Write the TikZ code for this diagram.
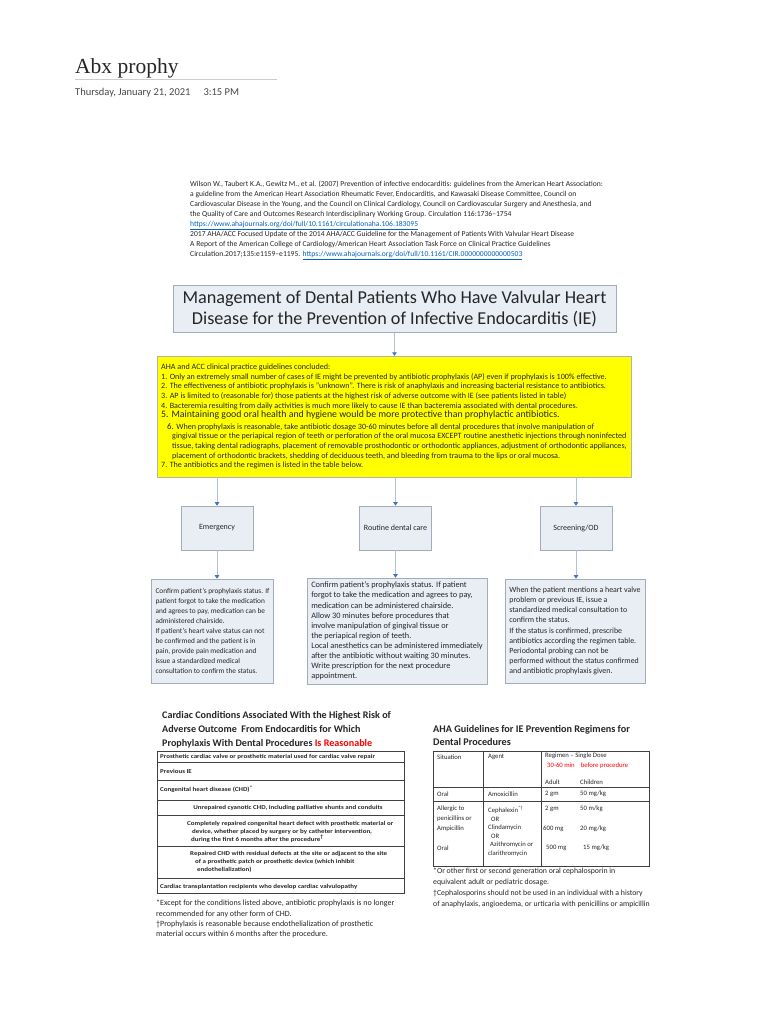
\documentclass[tikz,border=0pt]{standalone}
\usepackage{fontspec}
\setmainfont{Carlito}
\newfontfamily\headfont{Liberation Serif}
\newfontfamily\widefont[FakeStretch=1.16]{Carlito}
\usetikzlibrary{arrows.meta,positioning}
\definecolor{boxfill}{HTML}{E9EDF4}
\definecolor{boxline}{HTML}{A4ACB9}
\definecolor{conn}{HTML}{B4C0D4}
\definecolor{tipc}{HTML}{4472C4}
\definecolor{hilite}{HTML}{FFFF00}
\definecolor{weblink}{HTML}{0563C1}
\definecolor{ink}{HTML}{262626}
\definecolor{rule}{HTML}{404040}
\newcommand{\fsize}[2]{\fontsize{#1}{#2}\selectfont}
\newcommand{\weburl}[1]{\textcolor{weblink}{\underline{#1}}}

\begin{document}
\begin{tikzpicture}[x=1pt,y=-1pt,
  every node/.style={text=ink},
  box/.style={draw=boxline, fill=boxfill, line width=0.6pt},
  stage/.style={box, minimum width=72, minimum height=44, font=\fsize{8}{9}},
  note/.style={box, align=left, font=\fsize{7.3}{10.1}},
  flow/.style={draw=conn, line width=0.7pt, -{Triangle[length=3.5pt,width=4.5pt,color=tipc]}},
  cell/.style={anchor=west, inner sep=0, font=\fsize{6.7}{8}},
  row/.style={anchor=west, inner sep=0, font=\widefont\bfseries\fsize{6}{7.6}},
  grid/.style={draw=rule, line width=0.6pt}]
\useasboundingbox (0,0) rectangle (768,1024);
\fill[white] (0,0) rectangle (768,1024);

\node[anchor=base west, inner sep=0, font=\headfont\fsize{21.5}{24}] (page) at (75,74) {Abx prophy};
\draw[gray!40, line width=0.6pt] (75,79) -- (277,79);
\node[anchor=base west, inner sep=0, font=\fsize{10.5}{12}, text=ink!85] (stamp) at (75,96) {Thursday, January 21, 2021\hspace{13pt}3:15 PM};

\node[anchor=north west, inner sep=0, align=left, font=\fsize{7.6}{10.1}] (refs) at (190,180.5) {Wilson W., Taubert K.A., Gewitz M., et al. (2007) Prevention of infective endocarditis: guidelines from the American Heart Association:\\
a guideline from the American Heart Association Rheumatic Fever, Endocarditis, and Kawasaki Disease Committee, Council on\\
Cardiovascular Disease in the Young, and the Council on Clinical Cardiology, Council on Cardiovascular Surgery and Anesthesia, and\\
the Quality of Care and Outcomes Research Interdisciplinary Working Group. Circulation 116:1736--1754\\
\weburl{https://www.ahajournals.org/doi/full/10.1161/circulationaha.106.183095}\\
2017 AHA/ACC Focused Update of the 2014 AHA/ACC Guideline for the Management of Patients With Valvular Heart Disease\\
A Report of the American College of Cardiology/American Heart Association Task Force on Clinical Practice Guidelines\\
Circulation.2017;135:e1159--e1195. \weburl{https://www.ahajournals.org/doi/full/10.1161/CIR.0000000000000503}};

\node[box, minimum width=443, minimum height=47, align=center, font=\fsize{18.2}{21}] (title) at (394.5,309) {Management of Dental Patients Who Have Valvular Heart\\Disease for the Prevention of Infective Endocarditis (IE)};

\node[draw=gray!60, fill=hilite, minimum width=474, minimum height=121, align=left, font=\fsize{8.1}{9.6}] (guide) at (394,416.5) {AHA and ACC clinical practice guidelines concluded:\\
1. Only an extremely small number of cases of IE might be prevented by antibiotic prophylaxis (AP) even if prophylaxis is 100\% effective.\\
2. The effectiveness of antibiotic prophylaxis is "unknown". There is risk of anaphylaxis and increasing bacterial resistance to antibiotics.\\
3. AP is limited to (reasonable for) those patients at the highest risk of adverse outcome with IE (see patients listed in table)\\
4. Bacteremia resulting from daily activities is much more likely to cause IE than bacteremia associated with dental procedures.\\
{\fsize{9.8}{9.6}5. Maintaining good oral health and hygiene would be more protective than prophylactic antibiotics.}\\[2pt]
\hspace*{6pt}{\fsize{8.8}{9.6}6.} When prophylaxis is reasonable, take antibiotic dosage 30-60 minutes before all dental procedures that involve manipulation of\\
\hspace*{11pt}gingival tissue or the periapical region of teeth or perforation of the oral mucosa EXCEPT routine anesthetic injections through noninfected\\
\hspace*{11pt}tissue, taking dental radiographs, placement of removable prosthodontic or orthodontic appliances, adjustment of orthodontic appliances,\\
\hspace*{11pt}placement of orthodontic brackets, shedding of deciduous teeth, and bleeding from trauma to the lips or oral mucosa.\\
7. The antibiotics and the regimen is listed in the table below.};

\node[stage] (emerg) at (217,528) {Emergency};
\node[stage] (routine) at (395.5,528) {Routine dental care};
\node[stage] (screen) at (576,528) {Screening/OD};

\node[note, minimum width=122, minimum height=104] (emergnote) at (212.5,631) {Confirm patient's prophylaxis status. If\\
patient forgot to take the medication\\
and agrees to pay, medication can be\\
administered chairside.\\
If patient's heart valve status can not\\
be confirmed and the patient is in\\
pain, provide pain medication and\\
issue a standardized medical\\
consultation to confirm the status.};
\node[note, minimum width=180, minimum height=106, font=\fsize{8.3}{10.1}] (routnote) at (397,631) {Confirm patient's prophylaxis status. If patient\\
forgot to take the medication and agrees to pay,\\
medication can be administered chairside.\\
Allow 30 minutes before procedures that\\
involve manipulation of gingival tissue or\\
the periapical region of teeth.\\
Local anesthetics can be administered immediately\\
after the antibiotic without waiting 30 minutes.\\
Write prescription for the next procedure\\
appointment.};
\node[note, minimum width=140, minimum height=104, font=\fsize{7.9}{10.1}] (screennote) at (575,631) {When the patient mentions a heart valve\\
problem or previous IE, issue a\\
standardized medical consultation to\\
confirm the status.\\
If the status is confirmed, prescribe\\
antibiotics according the regimen table.\\
Periodontal probing can not be\\
performed without the status confirmed\\
and antibiotic prophylaxis given.};

\draw[flow] (title.south) -- (title.south |- guide.north);
\draw[flow] (emerg.north |- guide.south) -- (emerg.north);
\draw[flow] (routine.north |- guide.south) -- (routine.north);
\draw[flow] (screen.north |- guide.south) -- (screen.north);
\draw[flow] (emerg.south) -- (emerg.south |- emergnote.north);
\draw[flow] (routine.south) -- (routine.south |- routnote.north);
\draw[flow] (screen.south) -- (screen.south |- screennote.north);

\node[anchor=north west, inner sep=0, align=left, font=\bfseries\fsize{10.1}{14}] (risktitle) at (162,711) {Cardiac Conditions Associated With the Highest Risk of\\Adverse Outcome\ \ From Endocarditis for Which\\Prophylaxis With Dental Procedures \textcolor{red}{Is Reasonable}};

\draw[grid] (157,751) rectangle (404,893);
\foreach \yy in {762,780,800,815,846,878}
  \draw[grid] (157,\yy) -- (404,\yy);
\node[row] (valve) at (160,757) {Prosthetic cardiac valve or prosthetic material used for cardiac valve repair};
\node[row] (previe) at (160,771) {Previous IE};
\node[row] (chd) at (160,789) {Congenital heart disease (CHD)\textsuperscript{*}};
\node[row, anchor=center] (cyan) at (288,808) {Unrepaired cyanotic CHD, including palliative shunts and conduits};
\node[row, anchor=north west, align=left] (repaired) at (187,821.5) {Completely repaired congenital heart defect with prosthetic material or\\
\hspace*{5pt}device, whether placed by surgery or by catheter intervention,\\
\hspace*{4pt}during the first 6 months after the procedure\textsuperscript{\textdagger}};
\node[row, anchor=north west, align=left] (residual) at (190,851.5) {Repaired CHD with residual defects at the site or adjacent to the site\\
\hspace*{5pt}of a prosthetic patch or prosthetic device (which inhibit\\
\hspace*{7pt}endothelialization)};
\node[row] (transpl) at (160,887) {Cardiac transplantation recipients who develop cardiac valvulopathy};

\node[anchor=north west, inner sep=0, align=left, font=\fsize{8}{10.2}] (risknotes) at (156,900) {*Except for the conditions listed above, antibiotic prophylaxis is no longer\\
recommended for any other form of CHD.\\
\textdagger Prophylaxis is reasonable because endothelialization of prosthetic\\
material occurs within 6 months after the procedure.};

\node[anchor=north west, inner sep=0, align=left, font=\bfseries\fsize{10.2}{13.5}] (regtitle) at (433,725) {AHA Guidelines for IE Prevention Regimens for\\Dental Procedures};

\draw[grid] (433,751) rectangle (649,866);
\draw[grid] (483,751) -- (483,866);
\draw[grid] (541,751) -- (541,866);
\draw[grid] (433,787) -- (649,787);
\draw[grid] (433,801) -- (649,801);
\node[cell] (sit) at (437,757) {Situation};
\node[cell] (agent) at (488,757) {Agent};
\node[cell] (regimen) at (545,756) {Regimen -- Single Dose};
\node[cell, text=red] (window) at (547,766) {30-60 min\hspace{6pt}before procedure};
\node[cell] (adult) at (545,782) {Adult};
\node[cell] (child) at (580,782) {Children};
\node[cell] (oral) at (437,794) {Oral};
\node[cell] (amox) at (488,794) {Amoxicillin};
\node[cell] (amoxad) at (545,794) {2 gm};
\node[cell] (amoxch) at (580,794) {50 mg/kg};
\node[cell, anchor=north west, align=left, font=\fsize{6.7}{10}] (allergic) at (437,806) {Allergic to\\penicillins or\\Ampicillin};
\node[cell] (oraltoo) at (437,848) {Oral};
\node[cell, anchor=north west, align=left, font=\fsize{6.7}{8.6}] (agents) at (488,806) {Cephalexin\textsuperscript{*\textdagger}\\
\hspace*{3pt}OR\\
Clindamycin\\
\hspace*{3pt}OR\\
\hspace*{2pt}Azithromycin or\\
clarithromycin};
\node[cell] (cephad) at (545,809) {2 gm};
\node[cell] (cephch) at (580,809) {50 m/kg};
\node[cell] (clinad) at (543,829) {600 mg};
\node[cell] (clinch) at (580,829) {20 mg/kg};
\node[cell] (azad) at (546,848) {500 mg};
\node[cell] (azch) at (583,848) {15 mg/kg};

\node[anchor=north west, inner sep=0, align=left, font=\fsize{7.8}{10.8}] (regnotes) at (433,868) {*Or other first or second generation oral cephalosporin in\\
equivalent adult or pediatric dosage.\\
\textdagger Cephalosporins should not be used in an individual with a history\\
of anaphylaxis, angioedema, or urticaria with penicillins or ampicillin};
\end{tikzpicture}
\end{document}
